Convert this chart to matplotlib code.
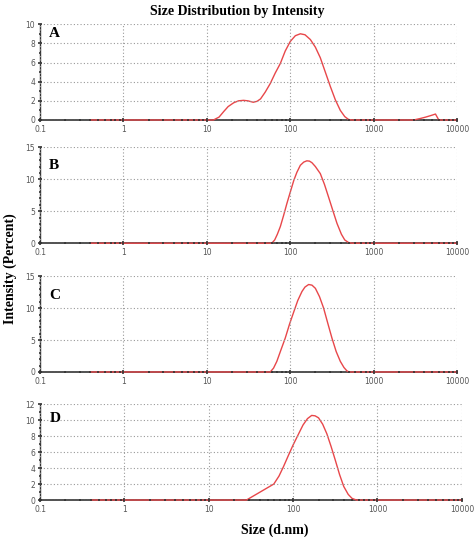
import matplotlib
matplotlib.use("Agg")

import matplotlib.pyplot as plt
from matplotlib.ticker import LogLocator, FixedLocator, NullFormatter, MultipleLocator

# size (d.nm) and intensity (%)
size_a = [0.4, 12, 14, 16, 18, 21, 24, 27.5, 31, 36, 40, 44, 50, 57.5, 66, 76, 87, 100,
          115, 132, 150, 174, 200, 229, 263, 302, 347, 398, 450, 500, 550,
          3020, 3600, 4200, 5000, 5500, 6030, 10000]
int_a = [0, 0, 0.3, 0.9, 1.4, 1.8, 2.0, 2.05, 2.0, 1.85, 1.95, 2.2, 2.9, 3.8, 4.9, 5.9, 7.2, 8.2,
         8.8, 9.0, 8.9, 8.4, 7.6, 6.5, 5.0, 3.5, 2.1, 1.0, 0.35, 0.05, 0,
         0, 0.15, 0.3, 0.5, 0.62, 0, 0]

size_b = [0.4, 60, 65, 70, 76, 83, 91, 100, 110, 120, 132, 145, 158, 170, 182, 200, 229,
          257, 288, 324, 363, 410, 450, 500, 550, 10000]
int_b = [0, 0, 0.5, 1.4, 2.6, 4.3, 6.2, 8.0, 9.8, 11.1, 12.2, 12.7, 12.9, 12.85, 12.6, 12.0, 10.9,
         9.2, 7.2, 5.1, 3.1, 1.4, 0.5, 0.1, 0, 0]

size_c = [0.4, 57.5, 63, 69, 77, 87, 98, 110, 123, 138, 150, 166, 182, 200, 224, 251,
          282, 316, 355, 398, 440, 479, 510, 10000]
int_c = [0, 0, 0.6, 1.66, 3.4, 5.3, 7.5, 9.4, 11.2, 12.6, 13.3, 13.7, 13.6, 13.1, 11.8, 10.0,
         7.6, 5.3, 3.2, 1.66, 0.7, 0.15, 0, 0]

size_d = [0.4, 28, 59, 68, 77, 88, 100, 115, 131, 148, 166, 182, 200, 224, 251, 282,
          316, 355, 398, 450, 500, 562, 10000]
int_d = [0, 0, 2.0, 3.0, 4.2, 5.6, 6.9, 8.2, 9.4, 10.2, 10.6, 10.55, 10.3, 9.5, 8.3, 6.7,
         5.0, 3.2, 1.7, 0.7, 0.2, 0, 0]

labels = ["A", "B", "C", "D"]
ymax = [10, 15, 15, 12]
ystep = [2, 5, 5, 2]
yminor = [1, 1, 1, 1]
label_y = [0.9, 0.81, 0.80, 0.85]

series = [(size_a, int_a), (size_b, int_b), (size_c, int_c), (size_d, int_d)]

# axes boxes in figure fraction (left, bottom, width, height)
boxes = [
    (0.0844, 0.777, 0.880, 0.178),
    (0.0844, 0.548, 0.880, 0.178),
    (0.0844, 0.3086, 0.880, 0.178),
    (0.0844, 0.0706, 0.890, 0.178),
]

serif = "Liberation Serif"
red = "#e8474a"
tick_color = "#555555"

fig = plt.figure(figsize=(4.74, 5.38), dpi=100)

for i, (x, y) in enumerate(series):
    ax = fig.add_axes(boxes[i])
    ax.plot(x, y, color=red, lw=1.0, zorder=2, clip_on=False)
    ax.set_xscale("log")
    ax.set_xlim(0.1, 10000)
    ax.set_ylim(0, ymax[i])

    ax.xaxis.set_major_locator(FixedLocator([0.1, 1, 10, 100, 1000, 10000]))
    ax.xaxis.set_minor_locator(LogLocator(base=10, subs=range(2, 10)))
    ax.xaxis.set_minor_formatter(NullFormatter())
    ax.set_xticklabels(["0.1", "1", "10", "100", "1000", "10000"])
    ax.yaxis.set_major_locator(MultipleLocator(ystep[i]))
    ax.yaxis.set_minor_locator(MultipleLocator(yminor[i]))

    ax.grid(True, which="major", linestyle=(0, (1, 2)), color="#999999", lw=0.8)
    for side in ["top", "right"]:
        ax.spines[side].set_visible(False)
    ax.spines["left"].set_color("#333333")
    ax.spines["bottom"].set_color("#333333")
    ax.spines["left"].set_linewidth(1.0)
    ax.spines["bottom"].set_linewidth(1.2)
    # baseline under the red trace, tick dots over it
    ax.spines["bottom"].set_zorder(1)

    ax.tick_params(which="major", direction="inout", length=3, width=1.2,
                   color="#333333", labelsize=5.5, labelcolor=tick_color, pad=2)
    ax.tick_params(which="minor", direction="inout", length=2, width=1.2,
                   color="#333333")
    ax.set_axisbelow(False)

    ax.text(0.022, label_y[i], labels[i], transform=ax.transAxes,
            fontfamily=serif, fontweight="bold", fontsize=11, va="center")

fig.text(0.5, 0.99, "Size Distribution by Intensity", ha="center", va="top",
         fontfamily=serif, fontweight="bold", fontsize=10)
fig.text(0.022, 0.5, "Intensity (Percent)", rotation=90, ha="center", va="center",
         fontfamily=serif, fontweight="bold", fontsize=10)
fig.text(0.58, 0.015, "Size (d.nm)", ha="center", va="center",
         fontfamily=serif, fontweight="bold", fontsize=10)

fig.savefig("out.png", dpi=100)
